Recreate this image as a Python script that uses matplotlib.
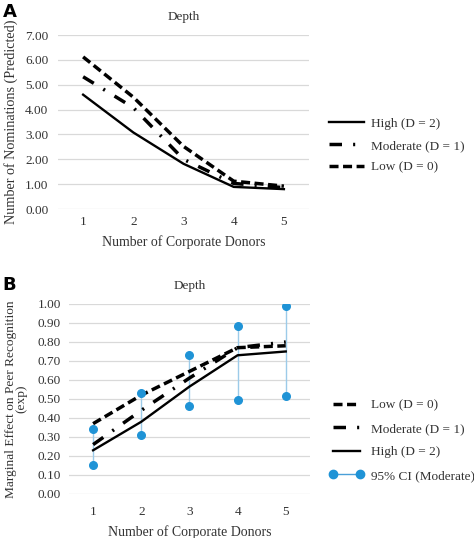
import matplotlib
matplotlib.use("Agg")
import matplotlib.pyplot as plt
from matplotlib.lines import Line2D

plt.rcParams['font.family'] = ['Liberation Serif', 'DejaVu Serif']

donors = [1, 2, 3, 4, 5]

# panel A: predicted nominations
nom_high = [4.60, 3.08, 1.82, 0.89, 0.80]
nom_moderate = [5.32, 4.08, 2.00, 1.03, 0.86]
nom_low = [6.12, 4.50, 2.52, 1.12, 0.92]

# panel B: marginal effect on peer recognition
me_low = [0.37, 0.52, 0.645, 0.77, 0.78]
me_moderate = [0.26, 0.44, 0.61, 0.77, 0.80]
me_high = [0.23, 0.38, 0.565, 0.73, 0.75]
ci_upper = [0.34, 0.53, 0.73, 0.885, 0.99]
ci_lower = [0.15, 0.31, 0.465, 0.495, 0.515]

BLUE = '#1f93d6'
LIGHTBLUE = '#9ccbe9'
GRID = '#d9d9d9'
TXT = '#333333'

ls_low = (0, (2.6, 1.3))
ls_mod = (0, (3.6, 3.2, 0.6, 3.2))
LW_SOLID = 1.7
LW_DASH = 2.5


def style(ax, ylim, yticks, xpad, ypad):
    ax.set_xlim(0.5, 5.5)
    ax.set_ylim(*ylim)
    ax.set_yticks(yticks)
    ax.set_yticklabels(['%.2f' % v for v in yticks], color=TXT, fontsize=9.5)
    ax.set_xticks(donors)
    ax.set_xticklabels([str(d) for d in donors], color=TXT, fontsize=9.5)
    for s in ax.spines.values():
        s.set_visible(False)
    ax.tick_params(axis='x', length=0, pad=xpad)
    ax.tick_params(axis='y', length=0, pad=ypad)
    ax.yaxis.grid(True, color=GRID, lw=0.9)
    ax.set_axisbelow(True)
    ax.set_title('Depth', fontsize=9.5, color=TXT, pad=11)
    ax.set_xlabel('Number of Corporate Donors', fontsize=10, color=TXT, labelpad=5)


fig = plt.figure(figsize=(4.74, 5.38), dpi=100)

# ---- panel A
axA = fig.add_axes([0.1224, 0.6115, 0.5295, 0.3234])
axA.plot(donors, nom_high, color='black', lw=LW_SOLID, label='High (D = 2)')
axA.plot(donors, nom_moderate, color='black', lw=LW_DASH, linestyle=ls_mod, label='Moderate (D = 1)')
axA.plot(donors, nom_low, color='black', lw=LW_DASH, linestyle=ls_low, label='Low (D = 0)')
style(axA, (0, 7), [0, 1, 2, 3, 4, 5, 6, 7], 5, 7)
axA.set_ylabel('Number of Nominations (Predicted)', fontsize=10.2, color=TXT, labelpad=5)
fig.legend(handles=axA.get_lines(), loc='upper left', bbox_to_anchor=(0.694, 0.781),
           frameon=False, fontsize=9.5, handlelength=2.65, labelspacing=0.72,
           handletextpad=0.55, borderpad=0, borderaxespad=0, labelcolor=TXT)
fig.text(0.006, 0.994, 'A', fontsize=13, fontweight='bold', family='DejaVu Sans', va='top')

# ---- panel B
axB = fig.add_axes([0.1456, 0.0818, 0.508, 0.3532])
for x, lo, hi in zip(donors, ci_lower, ci_upper):
    axB.plot([x, x], [lo, hi], color=LIGHTBLUE, lw=1.0, zorder=1)
axB.scatter(donors, ci_upper, s=30, color=BLUE, zorder=3)
axB.scatter(donors, ci_lower, s=30, color=BLUE, zorder=3)
axB.plot(donors, me_low, color='black', lw=LW_DASH, linestyle=ls_low, zorder=2)
axB.plot(donors, me_moderate, color='black', lw=LW_DASH, linestyle=ls_mod, zorder=2)
axB.plot(donors, me_high, color='black', lw=LW_SOLID, zorder=2)
style(axB, (0, 1.0), [i / 10 for i in range(11)], 9, 6)
axB.set_ylabel('Marginal Effect on Peer Recognition\n(exp)', fontsize=9.6, color=TXT,
               labelpad=7, linespacing=0.88)

handles = [
    Line2D([], [], color='black', lw=LW_DASH, linestyle=ls_low),
    Line2D([], [], color='black', lw=LW_DASH, linestyle=ls_mod),
    Line2D([], [], color='black', lw=LW_SOLID),
    Line2D([], [], color='#4a9fd8', lw=1.0, marker='o', markersize=6,
           markerfacecolor=BLUE, markeredgecolor=BLUE),
]
labels = ['Low (D = 0)', 'Moderate (D = 1)', 'High (D = 2)', '95% CI (Moderate)']
fig.legend(handles, labels, loc='upper left', bbox_to_anchor=(0.694, 0.258),
           frameon=False, fontsize=9.5, handlelength=2.65, labelspacing=0.85,
           handletextpad=0.55, borderpad=0, borderaxespad=0, numpoints=2,
           labelcolor=TXT)
fig.text(0.006, 0.487, 'B', fontsize=13, fontweight='bold', family='DejaVu Sans', va='top')

fig.savefig('out.png', dpi=100)
